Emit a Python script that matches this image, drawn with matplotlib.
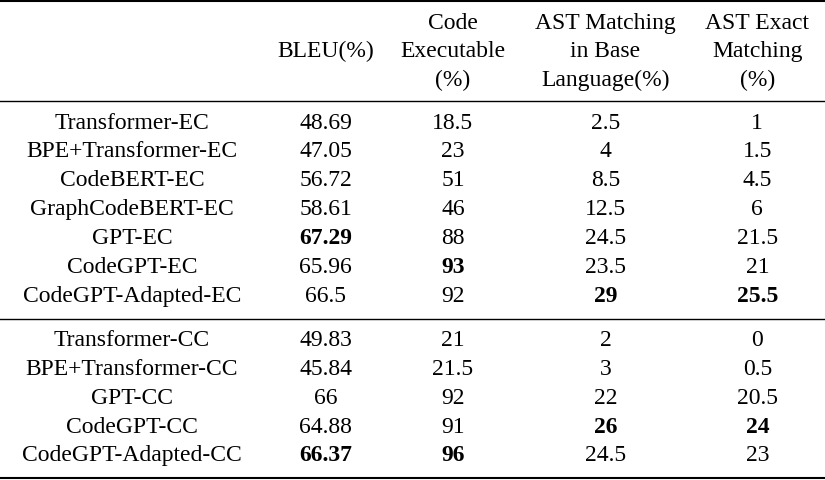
import matplotlib
matplotlib.use("Agg")
import matplotlib.pyplot as plt

headers = ["", "BLEU(%)", "Code\nExecutable\n(%)", "AST Matching\nin Base\nLanguage(%)", "AST Exact\nMatching\n(%)"]
models_ec = ["Transformer-EC", "BPE+Transformer-EC", "CodeBERT-EC", "GraphCodeBERT-EC", "GPT-EC", "CodeGPT-EC", "CodeGPT-Adapted-EC"]
bleu_ec = ["48.69", "47.05", "56.72", "58.61", "67.29", "65.96", "66.5"]
exec_ec = ["18.5", "23", "51", "46", "88", "93", "92"]
astb_ec = ["2.5", "4", "8.5", "12.5", "24.5", "23.5", "29"]
aste_ec = ["1", "1.5", "4.5", "6", "21.5", "21", "25.5"]
bold_ec = {(4, 1), (5, 2), (6, 3), (6, 4)}
models_cc = ["Transformer-CC", "BPE+Transformer-CC", "GPT-CC", "CodeGPT-CC", "CodeGPT-Adapted-CC"]
bleu_cc = ["49.83", "45.84", "66", "64.88", "66.37"]
exec_cc = ["21", "21.5", "92", "91", "96"]
astb_cc = ["2", "3", "22", "26", "24.5"]
aste_cc = ["0", "0.5", "20.5", "24", "23"]
bold_cc = {(3, 3), (3, 4), (4, 1), (4, 2)}

plt.rcParams['font.family'] = ['Liberation Serif', 'DejaVu Serif']
fig = plt.figure(figsize=(8.25, 4.81), dpi=100)
ax = fig.add_axes([0, 0, 1, 1])
ax.set_xlim(0, 1); ax.set_ylim(1, 0); ax.axis('off')

colx = [0.160, 0.395, 0.549, 0.734, 0.918]
fs = 17
for x, h in zip(colx, headers):
    lines = h.split("\n")
    ys = [0.167] if len(lines) == 1 else [0.049, 0.108, 0.167]
    if len(lines) == 1:
        ys = [0.108]
    for y, l in zip(ys, lines):
        ax.text(x, y, l, ha='center', va='center', fontsize=fs)

def section(models, cols, bold, y0):
    for i, m in enumerate(models):
        row = [m] + [c[i] for c in cols]
        for j, v in enumerate(row):
            ax.text(colx[j], y0 + i * 0.060, v, ha='center', va='center', fontsize=fs,
                    fontweight='bold' if (i, j) in bold else 'normal')

section(models_ec, [bleu_ec, exec_ec, astb_ec, aste_ec], bold_ec, 0.256)
section(models_cc, [bleu_cc, exec_cc, astb_cc, aste_cc], bold_cc, 0.708)

for y, lw in [(0.004, 1.5), (0.213, 1.0), (0.665, 1.0), (0.996, 1.5)]:
    ax.plot([0, 1], [y, y], color='black', lw=lw)

fig.savefig("out.png", dpi=100)
